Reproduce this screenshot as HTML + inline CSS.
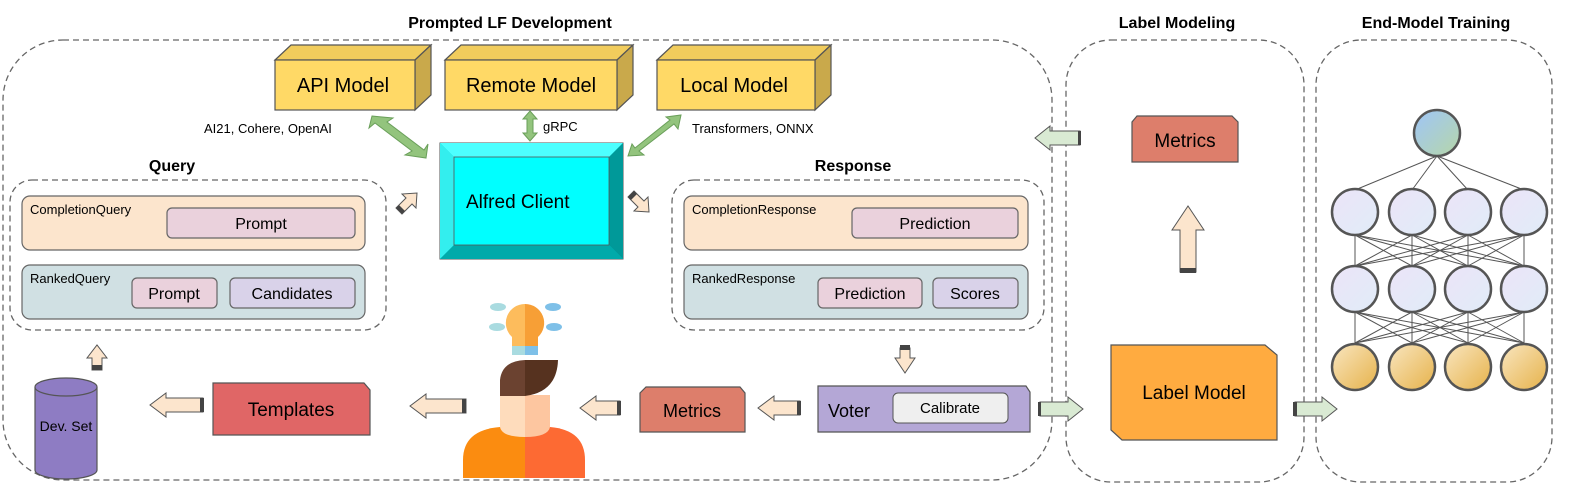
<!DOCTYPE html>
<html><head><meta charset="utf-8"><style>
html,body{margin:0;padding:0;background:#fff}
svg{display:block}
text{font-family:"Liberation Sans",Arial,sans-serif}
</style></head><body>
<svg width="1571" height="488" viewBox="0 0 1571 488" xmlns="http://www.w3.org/2000/svg">
<defs>
<linearGradient id="gtop" x1="0" y1="0" x2="1" y2="1"><stop offset="0" stop-color="#9fc5f8"/><stop offset="1" stop-color="#b6d7a8"/></linearGradient>
<linearGradient id="gmid" x1="0" y1="0" x2="1" y2="1"><stop offset="0" stop-color="#ece4f8"/><stop offset="1" stop-color="#e0ecf8"/></linearGradient>
<linearGradient id="gbot" x1="0" y1="0" x2="1" y2="1"><stop offset="0" stop-color="#f9e6c0"/><stop offset="1" stop-color="#e6b24a"/></linearGradient>
</defs>
<g fill="none" stroke="#666" stroke-width="1.3" stroke-dasharray="6,4">
<rect x="3" y="40" width="1049" height="440" rx="60"/>
<rect x="1066" y="40" width="238" height="442" rx="45"/>
<rect x="1316" y="40" width="236" height="442" rx="45"/>
<rect x="10" y="180" width="376" height="150" rx="22"/>
<rect x="672" y="180" width="372" height="150" rx="22"/>
</g>
<g font-weight="bold" font-size="16" fill="#000" text-anchor="middle">
<text x="510" y="28">Prompted LF Development</text>
<text x="1177" y="28">Label Modeling</text>
<text x="1436" y="28">End-Model Training</text>
<text x="172" y="171">Query</text>
<text x="853" y="171">Response</text>
</g>
<g stroke="#555" stroke-width="1.2">
<polygon points="275,60 291,45 431,45 415,60" fill="#f1cc5c"/>
<polygon points="415,60 431,45 431,95 415,110" fill="#c9a94b"/>
<rect x="275" y="60" width="140" height="50" fill="#ffd966"/>
<polygon points="445,60 461,45 633,45 617,60" fill="#f1cc5c"/>
<polygon points="617,60 633,45 633,95 617,110" fill="#c9a94b"/>
<rect x="445" y="60" width="172" height="50" fill="#ffd966"/>
<polygon points="657,60 673,45 831,45 815,60" fill="#f1cc5c"/>
<polygon points="815,60 831,45 831,95 815,110" fill="#c9a94b"/>
<rect x="657" y="60" width="158" height="50" fill="#ffd966"/>
</g>
<g font-size="20" text-anchor="middle" fill="#000">
<text x="343" y="92">API Model</text>
<text x="531" y="92">Remote Model</text>
<text x="734" y="92">Local Model</text>
</g>
<g font-size="13" fill="#000">
<text x="204" y="133">AI21, Cohere, OpenAI</text>
<text x="543" y="131">gRPC</text>
<text x="692" y="133">Transformers, ONNX</text>
</g>
<g fill="#93c47d" stroke="#6a9f5a" stroke-width="1">
<polygon points="372,116 393,118 387,122 424,150 428,144 426,158 405,155 412,151 375,123 369,128"/>
<polygon points="530,111 537,119 533,119 533,133 537,133 530,141 523,133 527,133 527,119 523,119"/>
<polygon points="681,115 678,129 674,124 639,151 644,155 628,156 632,144 635,148 670,120 666,117"/>
</g>
<rect x="440" y="143" width="183" height="116" fill="#00c8c8" stroke="#555"/>
<polygon points="440,143 623,143 609,157 454,157" fill="#4dffff"/>
<polygon points="440,143 454,157 454,245 440,259" fill="#33eeee"/>
<polygon points="623,143 623,259 609,245 609,157" fill="#009999"/>
<polygon points="440,259 454,245 609,245 623,259" fill="#00aaaa"/>
<rect x="454" y="157" width="155" height="88" fill="#00ffff" stroke="#555" stroke-width="0.8"/>
<text x="466" y="208" font-size="19">Alfred Client</text>
<g stroke="#666" stroke-width="1.2">
<rect x="22" y="196" width="343" height="54" rx="8" fill="#fce5cd"/>
<rect x="167" y="208" width="188" height="30" rx="5" fill="#ead1dc"/>
<rect x="22" y="265" width="343" height="54" rx="8" fill="#d0e0e3"/>
<rect x="132" y="278" width="85" height="30" rx="5" fill="#ead1dc"/>
<rect x="230" y="278" width="125" height="30" rx="5" fill="#d9d2e9"/>
<rect x="684" y="196" width="344" height="54" rx="8" fill="#fce5cd"/>
<rect x="852" y="208" width="166" height="30" rx="5" fill="#ead1dc"/>
<rect x="684" y="265" width="344" height="54" rx="8" fill="#d0e0e3"/>
<rect x="818" y="278" width="104" height="30" rx="5" fill="#ead1dc"/>
<rect x="933" y="278" width="85" height="30" rx="5" fill="#d9d2e9"/>
</g>
<g font-size="13" fill="#000">
<text x="30" y="214">CompletionQuery</text>
<text x="30" y="283">RankedQuery</text>
<text x="692" y="214">CompletionResponse</text>
<text x="692" y="283">RankedResponse</text>
</g>
<g font-size="16" fill="#000" text-anchor="middle">
<text x="261" y="229">Prompt</text>
<text x="174" y="299">Prompt</text>
<text x="292" y="299">Candidates</text>
<text x="935" y="229">Prediction</text>
<text x="870" y="299">Prediction</text>
<text x="975" y="299">Scores</text>
</g>
<g fill="#fce5cd" stroke="#555" stroke-width="1">
<polygon points="396,208 406,198 402,194 417,193 416,208 412,204 402,214"/>
<polygon points="634,191 644,201 648,197 649,212 634,211 638,207 628,197"/>
<polygon points="92,370 92,358 87,358 97,345 107,358 102,358 102,370"/>
<polygon points="900,348 910,348 910,358 915,358 905,373 895,358 900,358"/>
<polygon points="1180,272 1180,230 1172,230 1188,206 1204,230 1196,230 1196,272"/>
<polygon points="203,398 166,398 166,393 150,405 166,417 166,412 203,412"/>
<polygon points="466,399 426,399 426,394 410,406 426,418 426,413 466,413"/>
<polygon points="620,401 596,401 596,396 580,408 596,420 596,415 620,415"/>
<polygon points="800,401 774,401 774,396 758,408 774,420 774,415 800,415"/>
</g>
<g fill="#444">
<rect x="92" y="365" width="10" height="5"/><rect x="900" y="345" width="10" height="5"/>
<rect x="1180" y="268" width="16" height="5"/>
<rect x="200" y="398" width="4" height="14"/><rect x="462" y="399" width="4" height="14"/>
<rect x="617" y="401" width="4" height="14"/><rect x="797" y="401" width="4" height="14"/>
<polygon points="396,208 402,214 405,211 399,205"/><polygon points="628,197 634,191 637,194 631,200"/>
</g>
<g fill="#d9ead3" stroke="#555" stroke-width="1">
<polygon points="1080,131 1050,131 1050,126 1035,138 1050,150 1050,145 1080,145"/>
<polygon points="1040,402 1068,402 1068,397 1083,409 1068,421 1068,416 1040,416"/>
<polygon points="1295,402 1322,402 1322,397 1337,409 1322,421 1322,416 1295,416"/>
</g>
<g fill="#444"><rect x="1078" y="131" width="3" height="14"/><rect x="1038" y="402" width="3" height="14"/><rect x="1293" y="402" width="4" height="14"/></g>
<path d="M35,387 L35,470 A31,9 0 0 0 97,470 L97,387" fill="#8e7cc3" stroke="#555" stroke-width="1.2"/>
<ellipse cx="66" cy="387" rx="31" ry="9" fill="#8e7cc3" stroke="#555" stroke-width="1.2"/>
<text x="66" y="431" font-size="14" text-anchor="middle">Dev. Set</text>
<polygon points="213,383 364,383 370,390 370,435 213,435" fill="#e06666" stroke="#555" stroke-width="1.2"/>
<text x="291" y="416" font-size="19" text-anchor="middle">Templates</text>
<polygon points="646,387 740,387 745,393 745,432 640,432 640,393" fill="#dd7e6b" stroke="#555" stroke-width="1.2"/>
<text x="692" y="417" font-size="18" text-anchor="middle">Metrics</text>
<polygon points="818,386 1026,386 1030,392 1030,432 818,432" fill="#b4a7d6" stroke="#555" stroke-width="1.2"/>
<text x="828" y="417" font-size="18">Voter</text>
<rect x="893" y="393" width="115" height="30" rx="5" fill="#efefef" stroke="#555"/>
<text x="950" y="413" font-size="15" text-anchor="middle">Calibrate</text>
<g>
<ellipse cx="498" cy="307" rx="8" ry="4" fill="#a9dbe0"/><ellipse cx="497" cy="327" rx="8" ry="4" fill="#a9dbe0"/>
<ellipse cx="553" cy="307" rx="8" ry="4" fill="#7ec0e8"/><ellipse cx="554" cy="327" rx="8" ry="4" fill="#7ec0e8"/>
<path d="M525,304 A19,19 0 0 0 512,337 L512,346 L525,346 Z" fill="#fdbc5c"/>
<path d="M525,304 A19,19 0 0 1 538,337 L538,346 L525,346 Z" fill="#f79f36"/>
<rect x="512" y="346" width="13" height="9" fill="#a9dbe0"/><rect x="525" y="346" width="13" height="9" fill="#7ec0e8"/>
<path d="M463,478 L463,460 Q463,430 500,427 L525,427 L525,478 Z" fill="#fb8c10"/>
<path d="M585,478 L585,460 Q585,430 550,427 L525,427 L525,478 Z" fill="#fd6a33"/>
<path d="M500,427 L500,395 L525,395 L525,437 Q502,437 500,427 Z" fill="#fedcbc"/>
<path d="M550,427 L550,395 L525,395 L525,437 Q548,437 550,427 Z" fill="#fdc6a0"/>
<path d="M500,396 L500,380 Q502,361 525,360 L525,396 Z" fill="#6b4230"/>
<path d="M525,360 L558,360 Q557,392 525,396 Z" fill="#56321f"/>
</g>
<polygon points="1137,116 1232,116 1238,122 1238,162 1132,162 1132,122" fill="#dd7e6b" stroke="#555" stroke-width="1.2"/>
<text x="1185" y="147" font-size="19" text-anchor="middle">Metrics</text>
<polygon points="1111,345 1265,345 1277,355 1277,440 1122,440 1111,430" fill="#ffab40" stroke="#555" stroke-width="1.2"/>
<text x="1194" y="399" font-size="19" text-anchor="middle">Label Model</text>
<g stroke="#555" stroke-width="1">
<line x1="1437" y1="156" x2="1355" y2="190"/><line x1="1437" y1="156" x2="1412" y2="190"/><line x1="1437" y1="156" x2="1468" y2="190"/><line x1="1437" y1="156" x2="1524" y2="190"/>
<g id="L1">
<line x1="1355" y1="235" x2="1355" y2="266"/><line x1="1355" y1="235" x2="1412" y2="266"/><line x1="1355" y1="235" x2="1468" y2="266"/><line x1="1355" y1="235" x2="1524" y2="266"/>
<line x1="1412" y1="235" x2="1355" y2="266"/><line x1="1412" y1="235" x2="1412" y2="266"/><line x1="1412" y1="235" x2="1468" y2="266"/><line x1="1412" y1="235" x2="1524" y2="266"/>
<line x1="1468" y1="235" x2="1355" y2="266"/><line x1="1468" y1="235" x2="1412" y2="266"/><line x1="1468" y1="235" x2="1468" y2="266"/><line x1="1468" y1="235" x2="1524" y2="266"/>
<line x1="1524" y1="235" x2="1355" y2="266"/><line x1="1524" y1="235" x2="1412" y2="266"/><line x1="1524" y1="235" x2="1468" y2="266"/><line x1="1524" y1="235" x2="1524" y2="266"/>
</g>
<use href="#L1" transform="translate(0,77)"/>
</g>
<g stroke="#555" stroke-width="2.5">
<circle cx="1437" cy="133" r="23" fill="url(#gtop)"/>
<circle cx="1355" cy="212" r="23" fill="url(#gmid)"/><circle cx="1412" cy="212" r="23" fill="url(#gmid)"/><circle cx="1468" cy="212" r="23" fill="url(#gmid)"/><circle cx="1524" cy="212" r="23" fill="url(#gmid)"/>
<circle cx="1355" cy="289" r="23" fill="url(#gmid)"/><circle cx="1412" cy="289" r="23" fill="url(#gmid)"/><circle cx="1468" cy="289" r="23" fill="url(#gmid)"/><circle cx="1524" cy="289" r="23" fill="url(#gmid)"/>
<circle cx="1355" cy="367" r="23" fill="url(#gbot)"/><circle cx="1412" cy="367" r="23" fill="url(#gbot)"/><circle cx="1468" cy="367" r="23" fill="url(#gbot)"/><circle cx="1524" cy="367" r="23" fill="url(#gbot)"/>
</g>
</svg>
</body></html>
